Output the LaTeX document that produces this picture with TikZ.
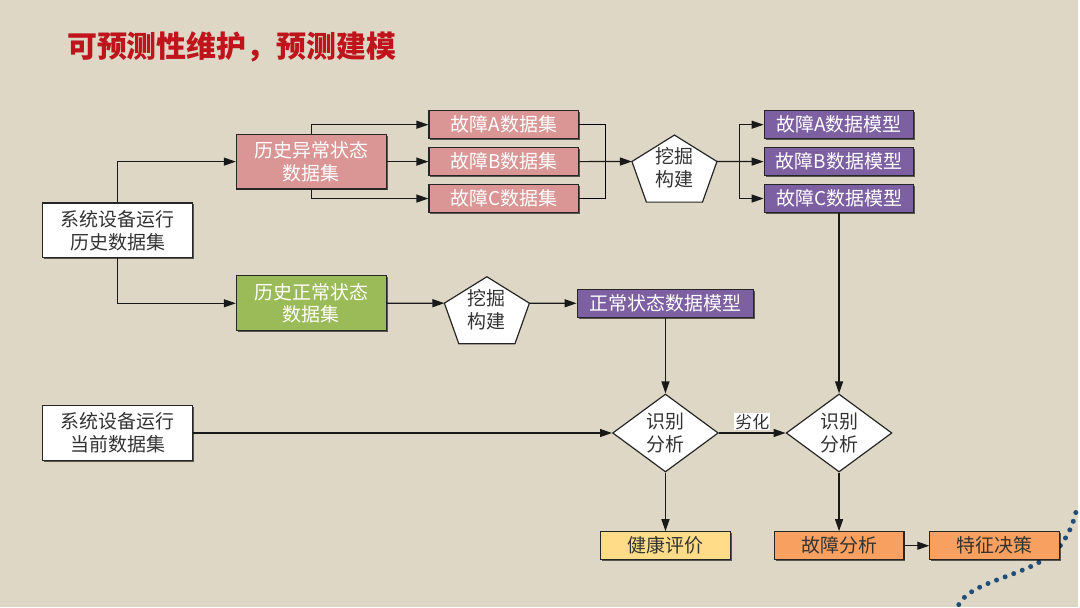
\documentclass[tikz,border=0pt]{standalone}
\usepackage{fontspec}
\setmainfont{Noto Sans CJK SC}
\usetikzlibrary{arrows.meta,calc,shapes.geometric,shadows}

\definecolor{slidebg}{HTML}{DED7C6}
\definecolor{titlered}{HTML}{C0141C}
\definecolor{faultpink}{HTML}{D99694}
\definecolor{modelpurple}{HTML}{7D60A2}
\definecolor{normgreen}{HTML}{9BBB59}
\definecolor{healthyellow}{HTML}{FFDD88}
\definecolor{faultorange}{HTML}{F8A060}
\definecolor{dotblue}{HTML}{1F4E79}

\newcommand\boxfont{\fontsize{9.5}{11.5}\selectfont}

% pentagon "mining" node: name, position, text
\newcommand\minenode[3]{%
  \node[minebox] (#1) at (#2) {};
  \coordinate (#1-l) at ($(#1.north west)!0.394!(#1.south west)$);
  \coordinate (#1-r) at ($(#1.north east)!0.394!(#1.south east)$);
  \filldraw[fill=white, draw=black!85] (#1.north) -- (#1-r)
    -- ($(#1.south east)!0.17!(#1.south west)$)
    -- ($(#1.south west)!0.17!(#1.south east)$) -- (#1-l) -- cycle;
  \node[font=\boxfont, align=center, text=black!80] (#1-t) at ($(#1)+(0,-1)$) {#3};
}

\begin{document}
\begin{tikzpicture}[x=0.5pt, y=-0.5pt, line width=0.6pt,
    box/.style={draw=black!85, align=center, font=\boxfont, inner sep=1pt,
      minimum width=75pt, minimum height=27.5pt,
      drop shadow={shadow xshift=0.7pt, shadow yshift=-0.7pt, fill=black, opacity=0.6}},
    small/.style={box, minimum height=14pt},
    whitebox/.style={box, fill=white, text=black!80},
    pinkbox/.style={small, fill=faultpink, text=white},
    purplebox/.style={small, fill=modelpurple, text=white},
    orangebox/.style={small, minimum width=65pt, fill=faultorange, text=black!80},
    minebox/.style={minimum width=42pt, minimum height=33pt, inner sep=0pt},
    judge/.style={diamond, draw=black!85, fill=white, align=center, font=\boxfont,
      text=black!80, inner sep=0pt, minimum width=53pt, minimum height=36pt},
    flow/.style={-{Triangle[length=6pt,width=4pt]}, black!90}]

    % --- Slide background ---
    \fill[slidebg] (0,0) rectangle (1080,608);
    \draw[dotblue, line width=2.5pt, line cap=round, dash pattern=on 0pt off 4.6pt]
      (961,606) .. controls (975,580) and (1035,578) .. (1062,548)
      .. controls (1072,535) and (1077,522) .. (1080,506);

    % --- Title ---
    \node[anchor=west, font=\fontsize{15}{18}\selectfont\bfseries, text=titlered]
      (title) at (60,47) {可预测性维护，预测建模};

    % --- Source data ---
    \node[whitebox] (hist) at (118,231) {系统设备运行\\历史数据集};
    \node[whitebox] (cur) at (118,434) {系统设备运行\\当前数据集};

    % --- Abnormal branch ---
    \node[box, fill=faultpink, text=white] (abn) at (312,162) {历史异常状态\\数据集};
    \node[pinkbox] (fa) at (505,125) {故障A数据集};
    \node[pinkbox] (fb) at (505,162) {故障B数据集};
    \node[pinkbox] (fc) at (505,199) {故障C数据集};
    \minenode{mineA}{676,169}{挖掘\\构建}
    \node[purplebox] (ma) at (841,125) {故障A数据模型};
    \node[purplebox] (mb) at (841,162) {故障B数据模型};
    \node[purplebox] (mc) at (841,199) {故障C数据模型};
    \coordinate (jA) at (607,162);
    \coordinate (jB) at (741,162);

    % --- Normal branch ---
    \node[box, fill=normgreen, text=white] (norm) at (312,304) {历史正常状态\\数据集};
    \minenode{mineN}{488,311}{挖掘\\构建}
    \node[purplebox, minimum width=88.5pt] (nmod) at (667,304) {正常状态数据模型};

    % --- Analysis ---
    \node[judge] (judgeN) at (667,434) {识别\\分析};
    \node[judge] (judgeF) at (841,434) {识别\\分析};
    \node[orangebox, fill=healthyellow] (health) at (667,547) {健康评价};
    \node[orangebox] (fault) at (841,547) {故障分析};
    \node[orangebox] (feat) at (997,547) {特征决策};

    % --- Connectors ---
    \draw[flow] (hist.north) |- (abn.west);
    \draw[flow] (hist.south) |- (norm.west);
    \draw[flow] (abn.north) |- (fa.west);
    \draw[flow] (abn.east) -- (fb.west);
    \draw[flow] (abn.south) |- (fc.west);
    \draw (fa.east) -| (jA) |- (fc.east);
    \draw[flow] (fb.east) -- (mineA-l);
    \draw[flow] (mineA-r) -- (mb.west);
    \draw[flow] (jB) |- (ma.west);
    \draw[flow] (jB) |- (mc.west);
    \draw[flow] (mc.south) -- (judgeF.north);
    \draw[flow] (norm.east) -- (mineN-l);
    \draw[flow] (mineN-r) -- (nmod.west);
    \draw[flow] (nmod.south) -- (judgeN.north);
    \draw[flow] (cur.east) -- (judgeN.west);
    \draw[flow] (judgeN.east) -- node[above=1pt, fill=white, inner sep=0.5pt,
      font=\fontsize{8.5}{10}\selectfont, text=black!80] (worse) {劣化} (judgeF.west);
    \draw[flow] (judgeN.south) -- (health.north);
    \draw[flow] (judgeF.south) -- (fault.north);
    \draw[flow] (fault.east) -- (feat.west);

\end{tikzpicture}
\end{document}
